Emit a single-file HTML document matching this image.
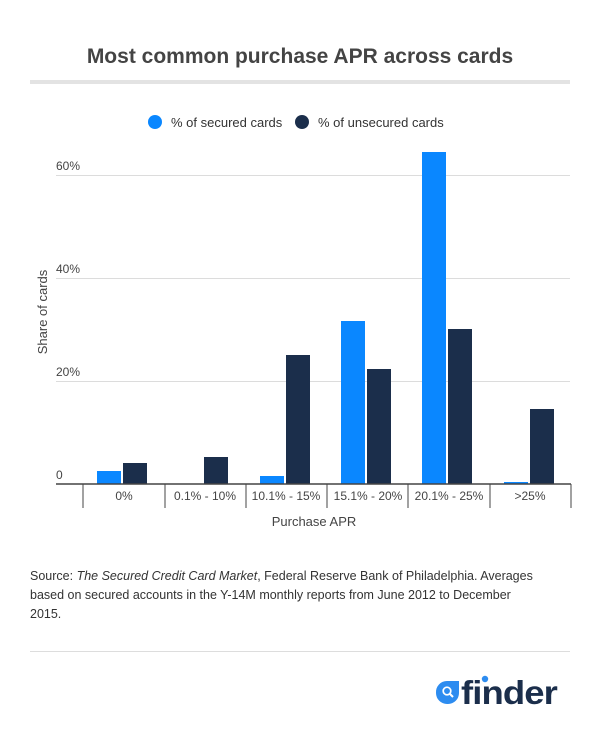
<!DOCTYPE html>
<html><head><style>
body{margin:0;background:#fff;font-family:"Liberation Sans",Arial,sans-serif;}
</style></head><body>
<svg width="600" height="733" xmlns="http://www.w3.org/2000/svg" font-family="Liberation Sans, Arial, sans-serif">
<rect width="600" height="733" fill="#fff"/>
<text x="300" y="63" text-anchor="middle" font-size="21" font-weight="bold" fill="#444">Most common purchase APR across cards</text>
<rect x="30" y="80" width="540" height="4" fill="#e3e3e3"/>
<circle cx="155" cy="122" r="7" fill="#0a87ff"/>
<text x="171" y="127" font-size="13" fill="#333">% of secured cards</text>
<circle cx="302" cy="122" r="7" fill="#1b2e4b"/>
<text x="318" y="127" font-size="13" fill="#333">% of unsecured cards</text>
<g stroke="#dcdcdc" stroke-width="1">
<line x1="56" y1="175.5" x2="570" y2="175.5"/>
<line x1="56" y1="278.5" x2="570" y2="278.5"/>
<line x1="56" y1="381.5" x2="570" y2="381.5"/>
</g>
<g font-size="12" fill="#444">
<text x="56" y="170">60%</text>
<text x="56" y="273">40%</text>
<text x="56" y="376">20%</text>
<text x="56" y="479">0</text>
</g>
<text transform="translate(47,312) rotate(-90)" text-anchor="middle" font-size="13" fill="#444">Share of cards</text>
<g fill="#0a87ff">
<rect x="97" y="471" width="24" height="13"/>
<rect x="260" y="476" width="24" height="8"/>
<rect x="341" y="321" width="24" height="163"/>
<rect x="422" y="152" width="24" height="332"/>
<rect x="504" y="482" width="24" height="2"/>
</g>
<g fill="#1b2e4b">
<rect x="123" y="463" width="24" height="21"/>
<rect x="204" y="457" width="24" height="27"/>
<rect x="286" y="355" width="24" height="129"/>
<rect x="367" y="369" width="24" height="115"/>
<rect x="448" y="329" width="24" height="155"/>
<rect x="530" y="409" width="24" height="75"/>
</g>
<line x1="56" y1="484" x2="571" y2="484" stroke="#444" stroke-width="1.5"/>
<g stroke="#444" stroke-width="1">
<line x1="83" y1="484" x2="83" y2="508"/>
<line x1="165" y1="484" x2="165" y2="508"/>
<line x1="246" y1="484" x2="246" y2="508"/>
<line x1="327" y1="484" x2="327" y2="508"/>
<line x1="408" y1="484" x2="408" y2="508"/>
<line x1="490" y1="484" x2="490" y2="508"/>
<line x1="571" y1="484" x2="571" y2="508"/>
</g>
<g font-size="12" fill="#444" text-anchor="middle">
<text x="124" y="500">0%</text>
<text x="205" y="500">0.1% - 10%</text>
<text x="286" y="500">10.1% - 15%</text>
<text x="368" y="500">15.1% - 20%</text>
<text x="449" y="500">20.1% - 25%</text>
<text x="530" y="500">&gt;25%</text>
</g>
<text x="314" y="526" text-anchor="middle" font-size="13" fill="#444">Purchase APR</text>
<g font-size="12.5" fill="#333">
<text x="30" y="580">Source: <tspan font-style="italic">The Secured Credit Card Market</tspan>, Federal Reserve Bank of Philadelphia. Averages</text>
<text x="30" y="599">based on secured accounts in the Y-14M monthly reports from June 2012 to December</text>
<text x="30" y="618">2015.</text>
</g>
<line x1="30" y1="651.5" x2="570" y2="651.5" stroke="#ddd" stroke-width="1"/>
<path d="M447 681 h12 v12 a11 11 0 0 1 -11 11 h-1 a11 11 0 0 1 -11 -11 a11 11 0 0 1 11 -12z" fill="#2d8cf0"/>
<circle cx="447" cy="691" r="3.8" fill="none" stroke="#fff" stroke-width="1.7"/>
<line x1="449.5" y1="693.5" x2="453" y2="697" stroke="#fff" stroke-width="2"/>
<text x="461" y="704" font-size="33" font-weight="bold" fill="#1b2e4b" letter-spacing="-0.8" textLength="96" lengthAdjust="spacingAndGlyphs">finder</text>
<circle cx="485" cy="679" r="3.2" fill="#2d8cf0"/>
</svg>
</body></html>
